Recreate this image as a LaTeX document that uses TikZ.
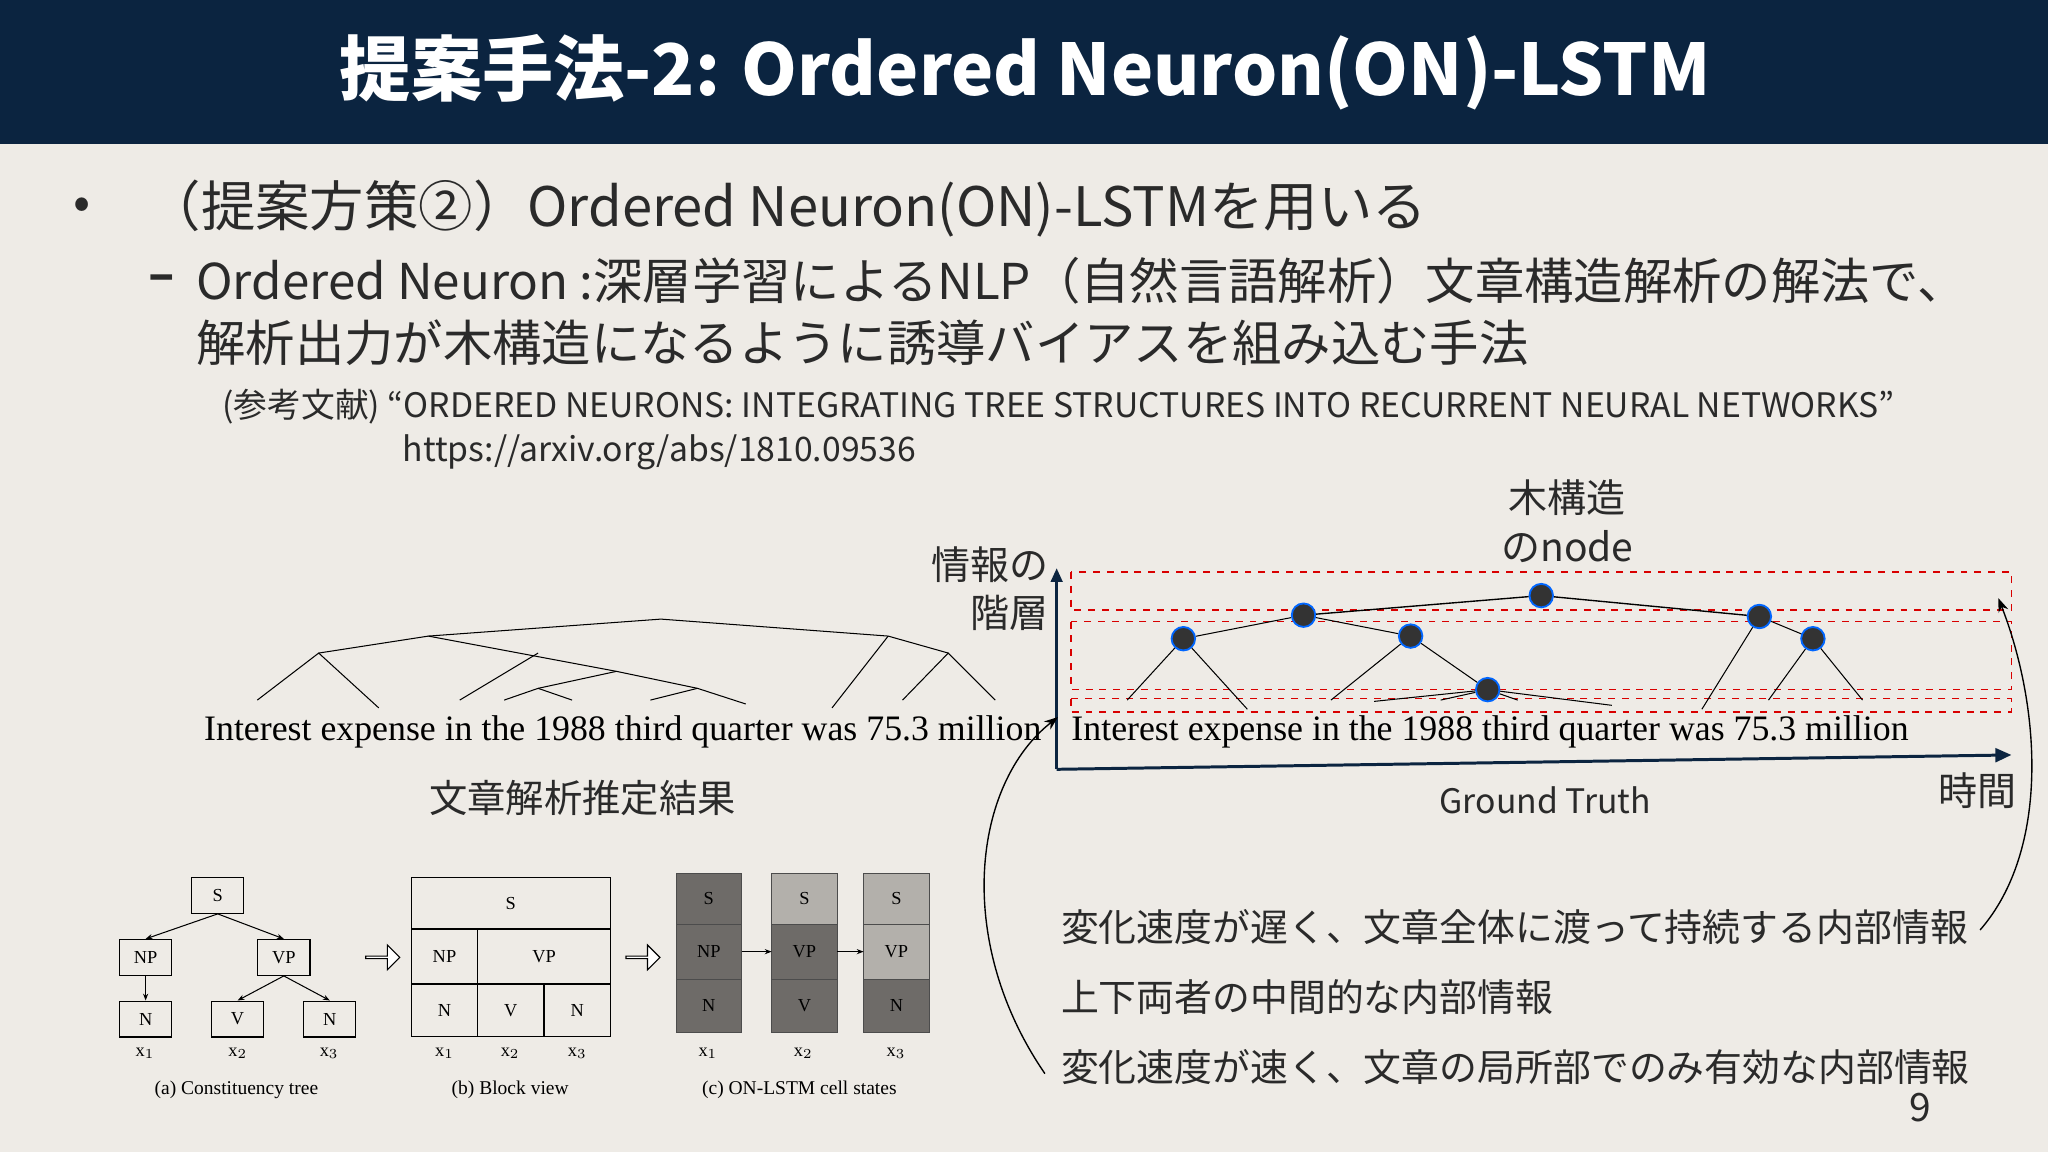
\documentclass[tikz,border=0pt]{standalone}
\usepackage{fontspec}
\setmainfont{Noto Sans CJK JP}
\newfontfamily\tms{Liberation Serif}
\usetikzlibrary{arrows.meta,shapes.arrows}
\definecolor{bg}{HTML}{EEEBE6}
\definecolor{navy}{HTML}{0B2440}
\definecolor{dcell}{HTML}{6E6B68}
\definecolor{lcell}{HTML}{B3B0AB}
\definecolor{txt}{HTML}{2A2A2A}
\tikzset{
  jt/.style={inner sep=0,text=txt},
  tb/.style={draw=black,line width=0.5pt,inner sep=0,minimum width=0.8cm,minimum height=0.55cm,font=\tms\fontsize{8}{9}\selectfont},
  sm/.style={inner sep=0,font=\tms\fontsize{8}{9}\selectfont},
  figcap/.style={inner sep=0,font=\tms\fontsize{8.5}{10}\selectfont},
  tl/.style={draw=black,line width=0.45pt},
  rd/.style={draw=red!85!black,dashed,line width=0.6pt},
  tn/.style={circle,fill=black!80,draw=blue!60!cyan,line width=0.8pt,minimum size=0.36cm,inner sep=0},
  harrow/.style={single arrow,draw=black,fill=white,line width=0.5pt,minimum height=0.52cm,minimum width=0.38cm,single arrow head extend=0.08cm,inner sep=0},
  sent/.style={inner sep=0,font=\tms\fontsize{15.6}{16}\selectfont,anchor=base west}
}
\begin{document}
\begin{tikzpicture}[x=0.02cm,y=-0.02cm]
\useasboundingbox (0,0) rectangle (1568,882);
\fill[bg] (0,0) rectangle (1568,882);
\fill[navy] (0,0) rectangle (1568,110);
\node[inner sep=0,text=white,font=\bfseries\fontsize{31}{36}\selectfont] (title) at (785,55) {提案手法-2: Ordered Neuron(ON)-LSTM};
% bullets
\node[jt,font=\fontsize{22}{24}\selectfont] (b1) at (63,160) {•};
\node[jt,anchor=west,font=\fontsize{23.7}{28}\selectfont] (l1) at (112,160) {（提案方策②）Ordered Neuron(ON)-LSTMを用いる};
\node[jt,anchor=west,font=\bfseries\fontsize{21}{24}\selectfont] (d1) at (113,217) {–};
\node[jt,anchor=west,font=\fontsize{21.5}{24}\selectfont] (l2) at (150,215) {Ordered Neuron :深層学習によるNLP（自然言語解析）文章構造解析の解法で、};
\node[jt,anchor=west,font=\fontsize{21.5}{24}\selectfont] (l3) at (150,262) {解析出力が木構造になるように誘導バイアスを組み込む手法};
\node[jt,anchor=west,font=\fontsize{14.7}{18}\selectfont] (ref) at (170,311) {(参考文献) “ORDERED NEURONS: INTEGRATING TREE STRUCTURES INTO RECURRENT NEURAL NETWORKS”};
\node[jt,anchor=west,font=\fontsize{14.7}{18}\selectfont] (url) at (308,346) {https://arxiv.org/abs/1810.09536};
% left predicted tree
\coordinate (R) at (506,474); \coordinate (A) at (328,487); \coordinate (B) at (244,500);
\coordinate (C) at (412,500); \coordinate (F) at (472,514); \coordinate (H) at (412,527);
\coordinate (G) at (534,527); \coordinate (AE) at (571,539);
\coordinate (I) at (680,487); \coordinate (J) at (726,500);
\draw[tl] (B) -- (A) -- (R) -- (I) -- (J);
\draw[tl] (A) -- (F) -- (G) -- (AE);
\draw[tl] (197,536) -- (B) -- (290,542);
\draw[tl] (352,536) -- (C);
\draw[tl] (386,536) -- (H) -- (F); \draw[tl] (H) -- (438,536);
\draw[tl] (498,536) -- (G);
\draw[tl] (637,542) -- (I);
\draw[tl] (691,536) -- (J) -- (762,536);
\node[sent] (s1) at (156,567) {Interest expense in the 1988 third quarter was 75.3 million};
\node[jt,font=\fontsize{16.7}{20}\selectfont] (est) at (446,611) {文章解析推定結果};
% right ground truth
\draw[rd] (820,438) rectangle (1540,467);
\draw[rd] (820,476) rectangle (1540,528);
\draw[rd] (820,535) rectangle (1540,545);
\node[tn] (n1) at (1180,456) {}; \node[tn] (n2) at (998,471) {};
\node[tn] (n3) at (906,489) {}; \node[tn] (n4) at (1080,487) {};
\node[tn] (n5) at (1139,528) {}; \node[tn] (n6) at (1347,472) {};
\node[tn] (n7) at (1388,489) {};
\draw[tl,line width=0.6pt] (n1) -- (n2); \draw[tl,line width=0.6pt] (n1) -- (n6);
\draw[tl] (n2) -- (n3); \draw[tl] (n2) -- (n4); \draw[tl] (n4) -- (n5); \draw[tl] (n6) -- (n7);
\draw[tl] (863,536) -- (n3) -- (955,543);
\draw[tl] (1019,536) -- (n4);
\draw[tl] (1052,537) -- (n5); \draw[tl] (1103,536) -- (n5); \draw[tl] (1162,536) -- (n5); \draw[tl] (1234,540) -- (n5);
\draw[tl] (1303,543) -- (n6);
\draw[tl] (1354,536) -- (n7) -- (1426,536);
\node[sent] (s2) at (820,567) {Interest expense in the 1988 third quarter was 75.3 million};
\coordinate (o) at (809,589); \coordinate (ytop) at (809,435); \coordinate (xend) at (1540,578);
\draw[navy,line width=1.3pt,-{Triangle[length=6pt,width=5pt]}] (o) -- (ytop);
\draw[navy,line width=1.3pt,-{Triangle[length=7pt,width=6pt]}] (o) -- (xend);
\node[jt,anchor=east,align=right,font=\fontsize{17}{21}\selectfont] (lvl) at (803,451) {情報の\\階層};
\node[jt,align=center,font=\fontsize{17}{21}\selectfont] (tree) at (1200,399) {木構造\\のnode};
\node[jt,font=\fontsize{14.7}{18}\selectfont] (gt) at (1183,613) {Ground Truth};
\node[jt,font=\fontsize{17}{20}\selectfont] (time) at (1514,605) {時間};
% right-side descriptions
\node[jt,anchor=west,font=\fontsize{16.5}{20}\selectfont] (t1) at (812,710) {変化速度が遅く、文章全体に渡って持続する内部情報};
\node[jt,anchor=west,font=\fontsize{16.5}{20}\selectfont] (t2) at (812,763) {上下両者の中間的な内部情報};
\node[jt,anchor=west,font=\fontsize{16.5}{20}\selectfont] (t3) at (812,817) {変化速度が速く、文章の局所部でのみ有効な内部情報};
\coordinate (ca1) at (800,822); \coordinate (ce1) at (810,549);
\draw[black,line width=0.6pt,-{Stealth[length=6pt]}] (ca1) .. controls (730,720) and (745,600) .. (ce1);
\coordinate (ca2) at (1516,712); \coordinate (ce2) at (1530,458);
\draw[black,line width=0.6pt,-{Stealth[length=6pt]}] (ca2) .. controls (1570,650) and (1562,540) .. (ce2);
\node[jt,font=\fontsize{17}{20}\selectfont] (pg) at (1470,848) {9};
% (a) constituency tree
\node[tb] (aS) at (166.7,685.5) {S};
\node[tb] (aNP) at (111.5,733) {NP};
\node[tb] (aVP) at (217.3,733) {VP};
\node[tb] (aN1) at (111.5,780.2) {N};
\node[tb] (aV) at (181.9,780.2) {V};
\node[tb] (aN2) at (252.5,780.2) {N};
\draw[-{Stealth[length=3pt]},line width=0.45pt] (aS.south) -- (aNP.north);
\draw[-{Stealth[length=3pt]},line width=0.45pt] (aS.south) -- (aVP.north);
\draw[-{Stealth[length=3pt]},line width=0.45pt] (aNP.south) -- (aN1.north);
\draw[-{Stealth[length=3pt]},line width=0.45pt] (aVP.south) -- (aV.north);
\draw[-{Stealth[length=3pt]},line width=0.45pt] (aVP.south) -- (aN2.north);
\node[sm] (ax1) at (111,806.5) {x$_1$}; \node[sm] (ax2) at (182,806.5) {x$_2$}; \node[sm] (ax3) at (252,806.5) {x$_3$};
\node[figcap] (capa) at (181,834.5) {(a) Constituency tree};
\node[harrow] (ar1) at (292.6,733) {};
\node[harrow] (ar2) at (491.8,733) {};
% (b) block view
\draw[line width=0.5pt] (315,671.7) rectangle (467.3,793.7);
\draw[line width=0.5pt] (315,711.3) -- (467.3,711.3);
\draw[line width=0.5pt] (315,753.4) -- (467.3,753.4);
\draw[line width=0.5pt] (365.7,711.3) -- (365.7,793.7);
\draw[line width=0.5pt] (416.5,753.4) -- (416.5,793.7);
\node[sm] (bS) at (391,691.5) {S};
\node[sm] (bNP) at (340.3,732.3) {NP}; \node[sm] (bVP) at (416.5,732.3) {VP};
\node[sm] (bN1) at (340.3,773.5) {N}; \node[sm] (bV) at (391,773.5) {V}; \node[sm] (bN2) at (442,773.5) {N};
\node[sm] (bx1) at (340.3,806.5) {x$_1$}; \node[sm] (bx2) at (390.6,806.5) {x$_2$}; \node[sm] (bx3) at (442,806.5) {x$_3$};
\node[figcap] (capb) at (390.6,834.5) {(b) Block view};
% (c) ON-LSTM cell states
\foreach \x/\c/\ca/\cb/\cc in {517.6/1/dcell/dcell/dcell, 590.8/2/lcell/dcell/dcell, 661.2/3/lcell/lcell/dcell}{
  \fill[\ca] (\x,668.7) rectangle ++(50.3,38.8);
  \fill[\cb] (\x,707.5) rectangle ++(50.3,42.3);
  \fill[\cc] (\x,749.8) rectangle ++(50.3,40.9);
  \draw[black!70,line width=0.4pt] (\x,668.7) rectangle ++(50.3,122);
  \draw[black!70,line width=0.4pt] (\x,707.5) -- ++(50.3,0);
  \draw[black!70,line width=0.4pt] (\x,749.8) -- ++(50.3,0);
}
\node[sm] (c1S) at (542.7,688) {S}; \node[sm] (c1NP) at (542.7,728.6) {NP}; \node[sm] (c1N) at (542.7,770) {N};
\node[sm] (c2S) at (615.9,688) {S}; \node[sm] (c2VP) at (615.9,728.6) {VP}; \node[sm] (c2V) at (615.9,770) {V};
\node[sm] (c3S) at (686.3,688) {S}; \node[sm] (c3VP) at (686.3,728.6) {VP}; \node[sm] (c3N) at (686.3,770) {N};
\coordinate (c1r) at (567.9,728.6); \coordinate (c2l) at (590.8,728.6);
\coordinate (c2r) at (641.1,728.6); \coordinate (c3l) at (661.2,728.6);
\draw[line width=0.45pt,-{Stealth[length=3pt]}] (c1r) -- (c2l);
\draw[line width=0.45pt,-{Stealth[length=3pt]}] (c2r) -- (c3l);
\node[sm] (cx1) at (542,806.5) {x$_1$}; \node[sm] (cx2) at (615,806.5) {x$_2$}; \node[sm] (cx3) at (686,806.5) {x$_3$};
\node[figcap] (capc) at (612,834.5) {(c) ON-LSTM cell states};
\end{tikzpicture}
\end{document}
